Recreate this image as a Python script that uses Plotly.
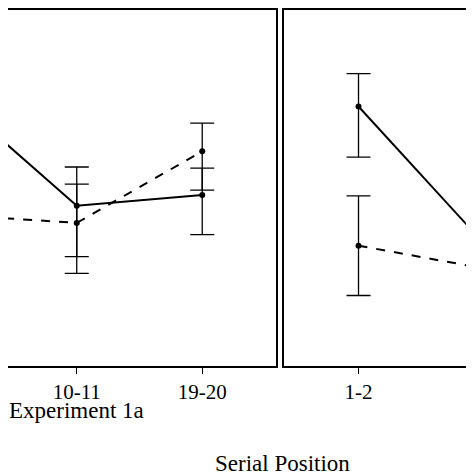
import plotly.graph_objects as go

positions = [0, 1, 2]
tick_labels = ["1-2", "10-11", "19-20"]

# Experiment 1a
a_solid = [0.760, 0.450, 0.480]
a_solid_hi = [0.880, 0.559, 0.556]
a_solid_lo = [0.640, 0.307, 0.369]
a_dash = [0.425, 0.402, 0.603]
a_dash_hi = [0.540, 0.511, 0.682]
a_dash_lo = [0.310, 0.260, 0.494]

# Experiment 1b
b_pos = [0, 1]
b_solid = [0.729, 0.344]
b_solid_hi = [0.821, 0.461]
b_solid_lo = [0.587, 0.215]
b_dash = [0.338, 0.274]
b_dash_hi = [0.478, 0.349]
b_dash_lo = [0.198, 0.148]

fig = go.Figure()

def add(x, y, hi, lo, dash, xa, ya):
    fig.add_trace(go.Scatter(
        x=x, y=y, mode="lines+markers", xaxis=xa, yaxis=ya,
        line=dict(color="black", width=2, dash=dash),
        marker=dict(color="black", size=6),
        error_y=dict(type="data", symmetric=False,
                     array=[h - v for h, v in zip(hi, y)],
                     arrayminus=[v - l for v, l in zip(y, lo)],
                     color="black", thickness=1.3, width=12),
        showlegend=False))

add(positions, a_solid, a_solid_hi, a_solid_lo, "solid", "x", "y")
add(positions, a_dash, a_dash_hi, a_dash_lo, "dash", "x", "y")
add(b_pos, b_solid, b_solid_hi, b_solid_lo, "solid", "x2", "y2")
add(b_pos, b_dash, b_dash_hi, b_dash_lo, "dash", "x2", "y2")

ax = dict(showgrid=False, zeroline=False, showline=True, mirror=True,
          linecolor="black", linewidth=1.5, ticks="outside", ticklen=6,
          tickcolor="black", tickvals=positions, ticktext=tick_labels,
          tickfont=dict(size=21, color="black", family="Liberation Serif"))
ay = dict(showgrid=False, zeroline=False, showline=True, mirror=True,
          linecolor="black", linewidth=1.5, showticklabels=False, ticks="",
          range=[0, 1])

fig.update_layout(
    width=474, height=474,
    margin=dict(l=0, r=0, t=0, b=116),
    paper_bgcolor="white", plot_bgcolor="white",
    font=dict(family="Liberation Serif", color="black"),
    xaxis=dict(ax, domain=[0, 269/474], range=[0.452, 2.587]),
    yaxis=dict(ay),
    xaxis2=dict(ax, domain=[277/474, 1], range=[-0.595, 0.968]),
    yaxis2=dict(ay, anchor="x2"),
    annotations=[
        dict(text="Experiment 1a", x=1, xref="x", y=-0.126, yref="paper",
             showarrow=False, font=dict(size=23), yanchor="middle"),
        dict(text="Experiment 1b", x=1, xref="x2", y=-0.126, yref="paper",
             showarrow=False, font=dict(size=23), yanchor="middle"),
        dict(text="Serial Position", x=276/474, xref="paper", y=-0.274,
             yref="paper", showarrow=False, font=dict(size=23), yanchor="middle"),
    ],
)
fig.write_html("out.html")
